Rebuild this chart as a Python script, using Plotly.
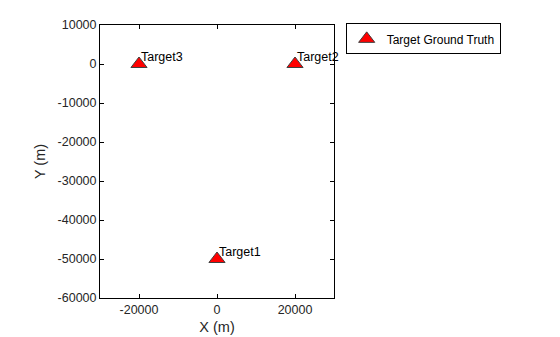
import plotly.graph_objects as go

names = ["Target1", "Target2", "Target3"]
x_vals = [0, 20000, -20000]
y_vals = [-50000, 0, 0]

x_ticks = [-20000, 0, 20000]
x_ticktext = ["-20000", "0", "20000"]
y_ticks = [10000, 0, -10000, -20000, -30000, -40000, -50000, -60000]
y_ticktext = ["10000", "0", "-10000", "-20000", "-30000", "-40000", "-50000", "-60000"]

font_family = "Liberation Sans, Arial, sans-serif"

fig = go.Figure()
fig.add_trace(go.Scatter(
    x=x_vals, y=y_vals, mode="markers",
    marker=dict(symbol="triangle-up", size=14, color="#ff0000",
                line=dict(color="#404040", width=1)),
    name="Target Ground Truth", showlegend=True, cliponaxis=False,
))

for nm, xv, yv in zip(names, x_vals, y_vals):
    fig.add_annotation(x=xv, y=yv, text=nm, showarrow=False, xanchor="left",
                       yanchor="middle", xshift=0, yshift=7,
                       font=dict(family=font_family, size=12.5, color="black"))

axis_common = dict(
    showgrid=False, zeroline=False, showline=True, linecolor="black", linewidth=1,
    mirror="ticks", ticks="inside", ticklen=4, tickcolor="black", automargin=False,
    tickfont=dict(family=font_family, size=12.5, color="#262626"),
)
fig.update_xaxes(range=[-30000, 30000], tickvals=x_ticks, ticktext=x_ticktext,
                 title=dict(text="X (m)", font=dict(family=font_family, size=14.5, color="#262626"), standoff=5),
                 **axis_common)
fig.update_yaxes(range=[-60000, 10000], tickvals=y_ticks, ticktext=y_ticktext,
                 title=dict(text="Y (m)", font=dict(family=font_family, size=14.5, color="#262626"), standoff=8),
                 **axis_common)

fig.update_layout(
    width=560, height=337,
    margin=dict(l=100, r=226, t=25, b=39),
    paper_bgcolor="white", plot_bgcolor="white",
    legend=dict(x=1.05, y=1.006, xanchor="left", yanchor="top",
                bordercolor="black", borderwidth=1, bgcolor="white",
                font=dict(family=font_family, size=12, color="black"),
                tracegroupgap=0, itemwidth=30),
)

fig.write_html("out.html")
